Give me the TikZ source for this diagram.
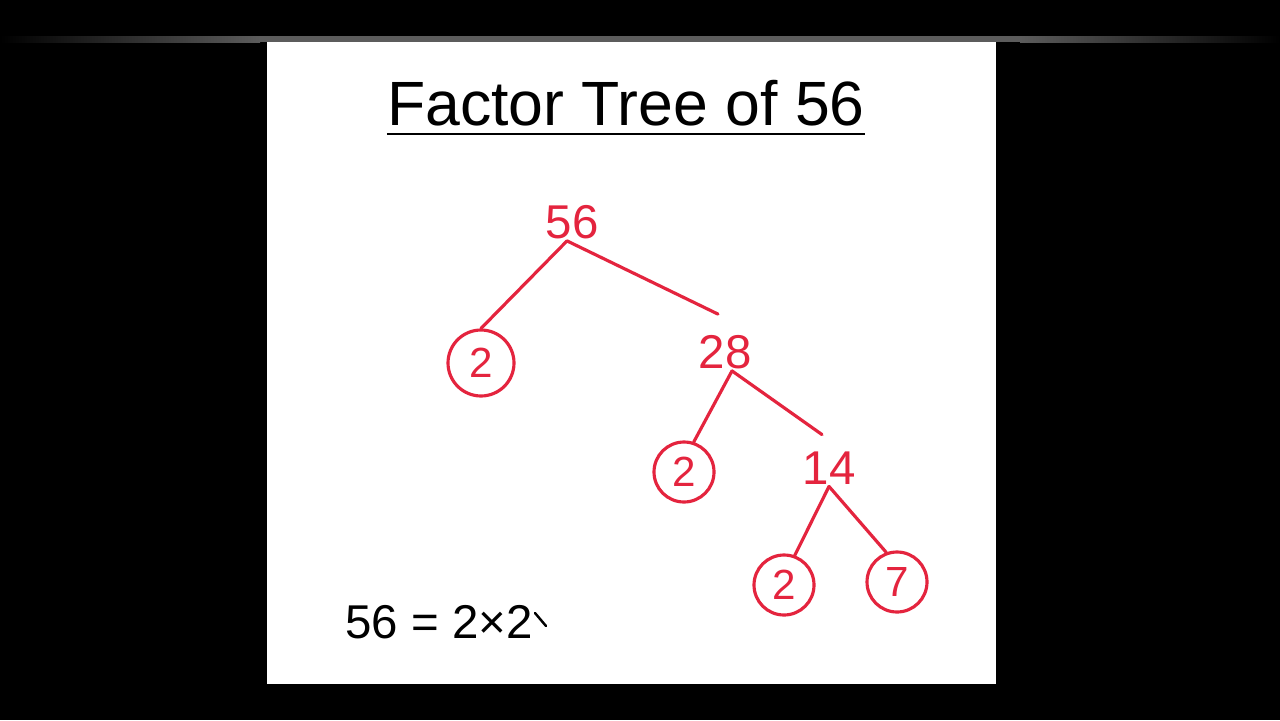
\documentclass[tikz,border=0pt]{standalone}
\usepackage{fontspec}
\setmainfont{Liberation Sans}
\usetikzlibrary{positioning}
\definecolor{inkred}{RGB}{228,36,62}
\definecolor{bandgray}{RGB}{92,92,92}

\begin{document}
\begin{tikzpicture}[x=0.02cm, y=-0.02cm,
  titletxt/.style={font=\fontsize{35.6}{40}\selectfont, inner sep=0pt, anchor=base},
  numtxt/.style={text=inkred, font=\fontsize{27}{30}\selectfont, inner sep=1pt},
  primenode/.style={circle, draw=inkred, line width=1.8pt, text=inkred,
                    minimum size=1.2cm, inner sep=0pt, font=\fontsize{24}{26}\selectfont},
  eqtxt/.style={font=\fontsize{27}{30}\selectfont, inner sep=0pt, anchor=west},
  branch/.style={draw=inkred, line width=1.8pt, line cap=round}
]

%% background: screen and slide
\fill[black] (0,0) rectangle (1280,720);
\useasboundingbox (0,0) rectangle (1280,720);
\shade[left color=black, right color=bandgray] (0,36) rectangle (260,42);
\fill[bandgray] (260,36) rectangle (1020,42);
\shade[left color=bandgray, right color=black] (1020,36) rectangle (1280,42);
\fill[white] (267,42) rectangle (996,684);

%% title
\node[titletxt] (title) at (626,125) {Factor Tree of 56};
\draw[line width=1.7pt] ([yshift=-0.18cm]title.base west) -- ([yshift=-0.18cm]title.base east);

%% tree nodes
\node[numtxt]   (n56) at (572,222) {56};
\node[primenode, minimum size=1.32cm] (p1) at (481,363) {2};
\node[numtxt]   (n28) at (725,352) {28};
\node[primenode] (p2) at (684,472) {2};
\node[numtxt]   (n14) at (829,468) {14};
\node[primenode] (p3) at (784,585) {2};
\node[primenode] (p4) at (897,582) {7};

%% branches
\draw[branch] ([xshift=-0.1cm]n56.south) -- (p1.north);
\draw[branch] ([xshift=-0.1cm]n56.south) -- ([shift={(-7,-19)}]n28.north);
\draw[branch] ([xshift=0.14cm]n28.south) -- (p2.72);
\draw[branch] ([xshift=0.14cm]n28.south) -- ([shift={(-7,-15)}]n14.north);
\draw[branch] (n14.south) -- (p3.70);
\draw[branch] (n14.south) -- (p4.110);

%% product written so far
\node[eqtxt] (eq) at (345,622) {56 = 2×2};
\draw[line width=1.4pt, line cap=round] (535,613) -- (546,626);

\end{tikzpicture}
\end{document}
